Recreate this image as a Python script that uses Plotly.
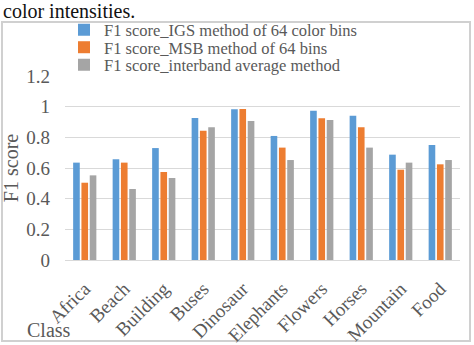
import plotly.graph_objects as go

categories = ["Africa", "Beach", "Building", "Buses", "Dinosaur", "Elephants",
              "Flowers", "Horses", "Mountain", "Food"]
igs = [0.635, 0.657, 0.730, 0.926, 0.983, 0.809, 0.974, 0.941, 0.687, 0.750]
msb = [0.504, 0.635, 0.574, 0.843, 0.985, 0.733, 0.924, 0.865, 0.589, 0.624]
interband = [0.552, 0.463, 0.535, 0.865, 0.907, 0.652, 0.913, 0.733, 0.635, 0.652]
series_names = ["F1 score_IGS method of 64 color bins",
                "F1 score_MSB method of 64 bins",
                "F1 score_interband average method"]
colors = ["#5b9bd5", "#ed7d31", "#a5a5a5"]
y_ticks = [0, 0.2, 0.4, 0.6, 0.8, 1, 1.2]
y_tick_labels = ["0", "0.2", "0.4", "0.6", "0.8", "1", "1.2"]

FF = "Liberation Serif"
txt = "#595959"

W, H = 474, 345
L, R, T, B = 65, 14, 76, 85
pw, ph = W - L - R, H - T - B

def px(x):
    return (x - L) / pw

def py(y):
    return (H - B - y) / ph

legend_ids = ["legend", "legend2", "legend3"]
legend_rows = [30, 47.5, 65]

fig = go.Figure()
for name, vals, c, lid in zip(series_names, [igs, msb, interband], colors, legend_ids):
    fig.add_trace(go.Bar(x=categories, y=vals, name=name, marker_color=c,
                         marker_line_width=0, legend=lid))

legend_common = dict(xanchor="left", yanchor="middle", orientation="v",
                     font=dict(family=FF, size=16.5, color=txt),
                     bgcolor="rgba(0,0,0,0)", borderwidth=0, itemwidth=30)
legends = {lid: dict(x=px(64), y=py(row), **legend_common)
           for lid, row in zip(legend_ids, legend_rows)}

fig.update_layout(
    template="none",
    width=W, height=H,
    margin=dict(l=L, r=R, t=T, b=B, autoexpand=False),
    paper_bgcolor="white", plot_bgcolor="white",
    font=dict(family=FF, color=txt, size=18),
    barmode="group", bargap=0.37, bargroupgap=0.2,
    showlegend=True,
    xaxis=dict(tickangle=-45, tickfont=dict(family=FF, size=19, color=txt),
               showgrid=False, showline=False, ticks="", fixedrange=True,
               ticklabelstandoff=13, automargin=False, zeroline=False),
    yaxis=dict(range=[0, 1.2], tickvals=y_ticks, ticktext=y_tick_labels,
               tickfont=dict(family=FF, size=19, color=txt), gridcolor="#d9d9d9",
               gridwidth=1, zeroline=True, zerolinecolor="#d9d9d9", zerolinewidth=1,
               showline=False, ticks="", ticklabelstandoff=14, automargin=False,
               title=dict(text="F1 score", font=dict(family=FF, size=20, color=txt),
                          standoff=2)),
    shapes=[dict(type="rect", xref="paper", yref="paper",
                 x0=px(2), x1=px(470), y0=py(341), y1=py(22),
                 line=dict(color="#d0d0d0", width=2), layer="below")],
    annotations=[
        dict(text="Class", xref="paper", yref="paper", x=px(25), y=py(330),
             xanchor="left", yanchor="middle", showarrow=False,
             font=dict(family=FF, size=20, color=txt)),
        dict(text="color intensities.", xref="paper", yref="paper",
             x=px(1), y=py(11), xanchor="left", yanchor="middle",
             showarrow=False, font=dict(family=FF, size=20, color="#111111")),
    ],
    **legends,
)

fig.write_html("out.html")
